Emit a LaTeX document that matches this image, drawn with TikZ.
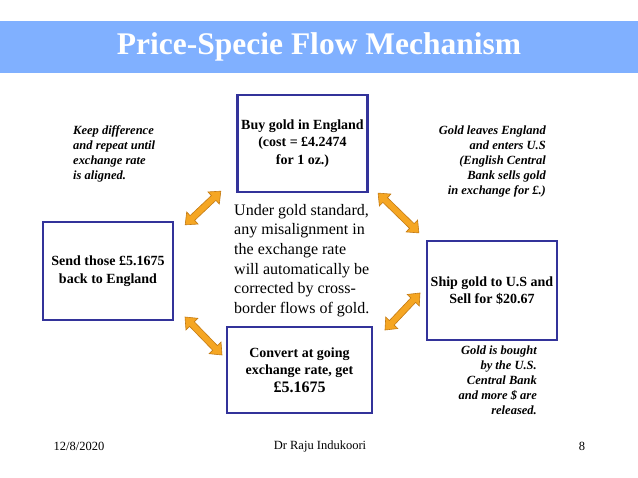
\documentclass[tikz,border=0pt]{standalone}
\usepackage{fontspec}
\setmainfont{Liberation Serif}
\usetikzlibrary{shapes.arrows}
\definecolor{boxblue}{HTML}{33339A}
\definecolor{band}{HTML}{80B0FF}
\definecolor{arrfill}{HTML}{F5A623}
\definecolor{arrline}{HTML}{C47A12}
\begin{document}
\begin{tikzpicture}[x=1pt,y=-1pt,
  stepbox/.style={draw=boxblue, line width=2.2pt, align=center,
    font=\bfseries\fontsize{14}{17.5}\selectfont, inner sep=0pt},
  note/.style={font=\bfseries\itshape\fontsize{12.5}{15}\selectfont, inner sep=0pt},
  dbl/.style={double arrow, fill=arrfill, draw=arrline, line width=0.6pt,
    inner xsep=0pt, inner ysep=3pt, double arrow head extend=5pt,
    double arrow tip angle=80, sloped},
  foot/.style={font=\fontsize{12.5}{14}\selectfont, inner sep=0pt}]
\useasboundingbox (0,0) rectangle (638,478);
\fill[white] (0,0) rectangle (638,478);
\fill[band] (0,21) rectangle (638,73);
\node[text=white, font=\bfseries\fontsize{31.5}{34}\selectfont] (title) at (319,47) {Price-Specie Flow Mechanism};

\node[stepbox, minimum width=130pt, minimum height=97pt] (buy) at (302.5,143.5)
  {Buy gold in England\\(cost = £4.2474\\for 1 oz.)};
\node[stepbox, minimum width=130pt, minimum height=98pt] (send) at (108,271)
  {Send those £5.1675\\back to England};
\node[stepbox, minimum width=130pt, minimum height=99pt] (ship) at (492,290.5)
  {Ship gold to U.S and\\Sell for \$20.67};
\node[stepbox, minimum width=145pt, minimum height=86pt] (conv) at (299.5,370)
  {Convert at going\\exchange rate, get\\{\fontsize{16}{18}\selectfont £5.1675}};

\node[anchor=north west, align=left, inner sep=0pt, font=\fontsize{16}{19.6}\selectfont] (center) at (234,204)
  {Under gold standard,\\any misalignment in\\the exchange rate\\will automatically be\\corrected by cross-\\border flows of gold.};

\node[note, anchor=north west, align=left] (keep) at (73,126)
  {Keep difference\\and repeat until\\exchange rate\\is aligned.};
\node[note, anchor=north east, align=right] (leaves) at (546,126)
  {Gold leaves England\\and enters U.S\\(English Central\\Bank sells gold\\in exchange for £.)};
\node[note, anchor=north east, align=right] (bought) at (537,346)
  {Gold is bought\\by the U.S.\\Central Bank\\and more \$ are\\released.};

\coordinate (tl1) at (185,225); \coordinate (tl2) at (221,191);
\coordinate (bl1) at (185,317); \coordinate (bl2) at (222,355);
\coordinate (tr1) at (378,193); \coordinate (tr2) at (419,233);
\coordinate (br1) at (385,330); \coordinate (br2) at (420,293);
\path (tl1) -- node[dbl, minimum height=49pt] (atl) {} (tl2);
\path (bl1) -- node[dbl, minimum height=53pt] (abl) {} (bl2);
\path (tr1) -- node[dbl, minimum height=57pt] (atr) {} (tr2);
\path (br1) -- node[dbl, minimum height=51pt] (abr) {} (br2);

\node[foot] (date) at (79,446) {12/8/2020};
\node[foot] (author) at (320,446) {Dr Raju Indukoori};
\node[foot] (page) at (582,446) {8};
\end{tikzpicture}
\end{document}
